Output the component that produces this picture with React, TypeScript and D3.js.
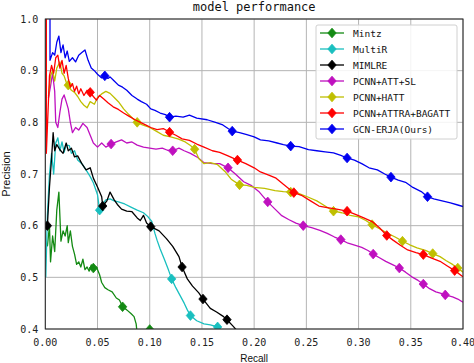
import React from "react";
import * as d3 from "d3";

const W = 474;
const H = 363;

// series names, in plotting order (last one ends up on top)
const NAMES = ["Mintz", "MultiR", "MIMLRE", "PCNN+ATT+SL", "PCNN+HATT", "PCNN+ATTRA+BAGATT", "GCN-ERJA(Ours)"];
const COLORS = ["#138a13", "#19bfbf", "#000000", "#bf10bf", "#bfbf00", "#ff0000", "#0000f0"];

// [recall, precision]
const mintz = [
  [0.002, 0.56], [0.004, 0.6], [0.005, 0.53], [0.007, 0.58], [0.009, 0.55], [0.011, 0.63], [0.013, 0.665],
  [0.015, 0.57], [0.017, 0.59], [0.019, 0.58], [0.021, 0.6], [0.022, 0.567], [0.024, 0.59], [0.026, 0.56],
  [0.028, 0.545], [0.03, 0.525], [0.032, 0.53], [0.034, 0.52], [0.036, 0.535], [0.038, 0.515], [0.04, 0.52],
  [0.042, 0.512], [0.044, 0.524], [0.046, 0.518], [0.049, 0.52], [0.052, 0.505], [0.054, 0.49], [0.057, 0.48],
  [0.06, 0.476], [0.064, 0.472], [0.068, 0.46], [0.071, 0.456], [0.074, 0.443], [0.078, 0.437], [0.082, 0.43],
  [0.085, 0.424], [0.087, 0.41], [0.088, 0.39], [0.094, 0.38], [0.1, 0.399], [0.104, 0.38],
];
const multiR = [
  [0.0005, 0.5], [0.002, 0.62], [0.004, 0.7], [0.006, 0.74], [0.008, 0.7], [0.01, 0.76], [0.012, 0.77],
  [0.014, 0.745], [0.016, 0.762], [0.018, 0.742], [0.02, 0.756], [0.023, 0.755], [0.025, 0.74], [0.028, 0.745],
  [0.031, 0.727], [0.035, 0.72], [0.039, 0.708], [0.043, 0.695], [0.046, 0.683], [0.05, 0.66], [0.052, 0.63],
  [0.055, 0.642], [0.058, 0.65], [0.062, 0.652], [0.066, 0.648], [0.07, 0.646], [0.076, 0.642], [0.082, 0.636],
  [0.088, 0.63], [0.094, 0.625], [0.098, 0.618], [0.102, 0.608], [0.105, 0.585], [0.107, 0.572], [0.11, 0.555],
  [0.114, 0.535], [0.118, 0.514], [0.121, 0.497], [0.125, 0.48], [0.129, 0.465], [0.133, 0.45], [0.136, 0.437],
  [0.139, 0.426], [0.145, 0.416], [0.152, 0.41], [0.158, 0.408], [0.165, 0.404], [0.168, 0.396],
];
const mimlre = [
  [0.002, 0.6], [0.004, 0.675], [0.006, 0.73], [0.0075, 0.78], [0.009, 0.745], [0.011, 0.757], [0.014, 0.747],
  [0.017, 0.74], [0.02, 0.76], [0.022, 0.745], [0.025, 0.75], [0.028, 0.733], [0.031, 0.735], [0.035, 0.72],
  [0.039, 0.708], [0.043, 0.712], [0.046, 0.692], [0.05, 0.675], [0.054, 0.656], [0.055, 0.638], [0.059, 0.648],
  [0.062, 0.665], [0.066, 0.65], [0.069, 0.641], [0.073, 0.632], [0.078, 0.628], [0.083, 0.627], [0.088, 0.615],
  [0.091, 0.61], [0.094, 0.62], [0.097, 0.605], [0.101, 0.598], [0.109, 0.59], [0.116, 0.575], [0.122, 0.56],
  [0.128, 0.54], [0.131, 0.52], [0.136, 0.497], [0.141, 0.483], [0.147, 0.47], [0.151, 0.458], [0.158, 0.44],
  [0.164, 0.433], [0.17, 0.425], [0.174, 0.418], [0.18, 0.405], [0.184, 0.396],
];
const pcnnAttSl = [
  [0.003, 0.847], [0.005, 0.87], [0.007, 0.895], [0.009, 0.86], [0.01, 0.8], [0.012, 0.79], [0.014, 0.82],
  [0.016, 0.845], [0.018, 0.853], [0.02, 0.84], [0.022, 0.826], [0.024, 0.8], [0.026, 0.78], [0.029, 0.79],
  [0.032, 0.785], [0.036, 0.798], [0.04, 0.79], [0.043, 0.775], [0.046, 0.76], [0.05, 0.752], [0.054, 0.76],
  [0.058, 0.752], [0.063, 0.758], [0.068, 0.762], [0.073, 0.766], [0.078, 0.76], [0.083, 0.762], [0.088, 0.756],
  [0.094, 0.752], [0.1, 0.75], [0.106, 0.748], [0.112, 0.75], [0.117, 0.746], [0.122, 0.745], [0.128, 0.75],
  [0.133, 0.745], [0.139, 0.74], [0.146, 0.732], [0.152, 0.722], [0.16, 0.72], [0.167, 0.72], [0.175, 0.712],
  [0.182, 0.7], [0.19, 0.685], [0.197, 0.678], [0.205, 0.665], [0.213, 0.646], [0.22, 0.632], [0.226, 0.62],
  [0.233, 0.612], [0.24, 0.605], [0.247, 0.6], [0.255, 0.596], [0.263, 0.591], [0.27, 0.585], [0.277, 0.578],
  [0.283, 0.573], [0.29, 0.566], [0.297, 0.562], [0.303, 0.558], [0.309, 0.552], [0.314, 0.545], [0.32, 0.538],
  [0.326, 0.531], [0.333, 0.524], [0.339, 0.518], [0.345, 0.51], [0.351, 0.501], [0.357, 0.494], [0.362, 0.487],
  [0.368, 0.478], [0.374, 0.472], [0.379, 0.469], [0.383, 0.466], [0.39, 0.462], [0.395, 0.458], [0.4, 0.452],
];
const pcnnHatt = [
  [0.003, 0.85], [0.005, 0.89], [0.007, 0.9], [0.009, 0.88], [0.011, 0.905], [0.014, 0.917], [0.016, 0.895],
  [0.018, 0.89], [0.02, 0.878], [0.022, 0.872], [0.025, 0.862], [0.028, 0.858], [0.031, 0.85], [0.034, 0.84],
  [0.037, 0.833], [0.04, 0.828], [0.043, 0.84], [0.047, 0.835], [0.05, 0.848], [0.054, 0.855], [0.058, 0.86],
  [0.062, 0.856], [0.066, 0.848], [0.07, 0.84], [0.075, 0.826], [0.08, 0.815], [0.085, 0.805], [0.088, 0.8],
  [0.093, 0.795], [0.1, 0.79], [0.107, 0.782], [0.113, 0.775], [0.12, 0.772], [0.127, 0.768], [0.134, 0.762],
  [0.139, 0.755], [0.143, 0.748], [0.147, 0.73], [0.152, 0.72], [0.158, 0.722], [0.165, 0.718], [0.172, 0.705],
  [0.178, 0.69], [0.186, 0.679], [0.193, 0.678], [0.2, 0.674], [0.21, 0.672], [0.22, 0.668], [0.228, 0.666],
  [0.235, 0.665], [0.243, 0.662], [0.252, 0.655], [0.26, 0.648], [0.268, 0.638], [0.276, 0.628], [0.284, 0.625],
  [0.292, 0.62], [0.3, 0.617], [0.307, 0.61], [0.313, 0.602], [0.32, 0.594], [0.327, 0.586], [0.335, 0.578],
  [0.342, 0.57], [0.349, 0.563], [0.356, 0.557], [0.364, 0.552], [0.371, 0.546], [0.378, 0.54], [0.384, 0.532],
  [0.39, 0.525], [0.395, 0.518], [0.4, 0.51],
];
const pcnnAttraBagatt = [
  [0.001, 1.0], [0.001, 0.74], [0.004, 0.89], [0.006, 0.91], [0.008, 0.895], [0.01, 0.925], [0.012, 0.93],
  [0.014, 0.905], [0.016, 0.92], [0.018, 0.895], [0.02, 0.91], [0.022, 0.885], [0.024, 0.868], [0.026, 0.875],
  [0.028, 0.86], [0.03, 0.87], [0.032, 0.855], [0.034, 0.865], [0.037, 0.852], [0.04, 0.862], [0.043, 0.858],
  [0.046, 0.85], [0.049, 0.843], [0.052, 0.852], [0.056, 0.845], [0.06, 0.838], [0.065, 0.83], [0.07, 0.825],
  [0.075, 0.818], [0.08, 0.812], [0.086, 0.805], [0.091, 0.8], [0.096, 0.795], [0.101, 0.79], [0.107, 0.786],
  [0.113, 0.788], [0.119, 0.781], [0.125, 0.775], [0.131, 0.768], [0.138, 0.765], [0.145, 0.758], [0.152, 0.752],
  [0.16, 0.745], [0.167, 0.742], [0.175, 0.735], [0.184, 0.727], [0.192, 0.72], [0.2, 0.712], [0.206, 0.704],
  [0.214, 0.698], [0.221, 0.692], [0.228, 0.68], [0.233, 0.672], [0.238, 0.664], [0.246, 0.658], [0.254, 0.648],
  [0.262, 0.638], [0.27, 0.635], [0.279, 0.632], [0.289, 0.628], [0.297, 0.622], [0.305, 0.615], [0.313, 0.608],
  [0.32, 0.596], [0.327, 0.581], [0.333, 0.572], [0.34, 0.562], [0.347, 0.553], [0.355, 0.548], [0.362, 0.544],
  [0.37, 0.537], [0.378, 0.531], [0.385, 0.522], [0.392, 0.513], [0.4, 0.501],
];
const gcnErja = [
  [0.0045, 1.0], [0.0045, 0.92], [0.007, 0.935], [0.009, 0.93], [0.011, 0.955], [0.013, 0.967], [0.015, 0.935],
  [0.017, 0.95], [0.019, 0.925], [0.021, 0.938], [0.023, 0.918], [0.026, 0.925], [0.029, 0.917], [0.032, 0.93],
  [0.035, 0.935], [0.038, 0.94], [0.041, 0.92], [0.044, 0.905], [0.047, 0.9], [0.05, 0.893], [0.054, 0.886],
  [0.057, 0.89], [0.06, 0.885], [0.062, 0.888], [0.066, 0.88], [0.07, 0.872], [0.074, 0.868], [0.078, 0.862],
  [0.083, 0.852], [0.088, 0.845], [0.092, 0.84], [0.097, 0.835], [0.101, 0.826], [0.105, 0.823], [0.11, 0.818],
  [0.115, 0.815], [0.119, 0.81], [0.125, 0.812], [0.132, 0.81], [0.138, 0.814], [0.145, 0.808], [0.155, 0.805],
  [0.163, 0.8], [0.17, 0.795], [0.175, 0.788], [0.179, 0.783], [0.186, 0.78], [0.193, 0.776], [0.2, 0.772],
  [0.206, 0.766], [0.214, 0.764], [0.222, 0.76], [0.228, 0.757], [0.235, 0.754], [0.243, 0.753], [0.252, 0.747],
  [0.26, 0.745], [0.268, 0.743], [0.276, 0.741], [0.283, 0.736], [0.289, 0.731], [0.296, 0.727], [0.303, 0.72],
  [0.31, 0.712], [0.318, 0.708], [0.325, 0.7], [0.331, 0.694], [0.338, 0.688], [0.345, 0.684], [0.352, 0.674],
  [0.36, 0.666], [0.366, 0.656], [0.372, 0.652], [0.38, 0.648], [0.388, 0.644], [0.395, 0.64], [0.4, 0.637],
];

// diamond markers sitting on each curve
const mintzMarks = [[0.046, 0.518], [0.074, 0.443], [0.1, 0.399]];
const multiRMarks = [[0.052, 0.63], [0.121, 0.497], [0.139, 0.426], [0.165, 0.404]];
const mimlreMarks = [[0.002, 0.6], [0.055, 0.638], [0.101, 0.598], [0.131, 0.52], [0.151, 0.458], [0.174, 0.418]];
const pcnnAttSlMarks = [[0.063, 0.758], [0.122, 0.745], [0.175, 0.712], [0.213, 0.646], [0.247, 0.6], [0.283, 0.573], [0.314, 0.545], [0.339, 0.518], [0.362, 0.487], [0.383, 0.466]];
const pcnnHattMarks = [[0.022, 0.872], [0.088, 0.8], [0.143, 0.748], [0.186, 0.679], [0.235, 0.665], [0.276, 0.628], [0.313, 0.602], [0.342, 0.57], [0.371, 0.546], [0.395, 0.518]];
const pcnnAttraBagattMarks = [[0.043, 0.858], [0.119, 0.781], [0.184, 0.727], [0.238, 0.664], [0.289, 0.628], [0.327, 0.581], [0.362, 0.544], [0.392, 0.513]];
const gcnErjaMarks = [[0.057, 0.89], [0.119, 0.81], [0.179, 0.783], [0.235, 0.754], [0.289, 0.731], [0.331, 0.694], [0.366, 0.656]];

const SERIES = [mintz, multiR, mimlre, pcnnAttSl, pcnnHatt, pcnnAttraBagatt, gcnErja];
const MARKS = [mintzMarks, multiRMarks, mimlreMarks, pcnnAttSlMarks, pcnnHattMarks, pcnnAttraBagattMarks, gcnErjaMarks];

const X_DOMAIN = [0, 0.4];
const Y_DOMAIN = [0.4, 1.0];

const left = 45.3, right = 463, top = 19, bottom = 329;
const MONO = "'DejaVu Sans Mono', monospace";

const diamond = (cx: number, cy: number, s = 4.2) =>
  `M${cx},${cy - s * 1.15}L${cx + s},${cy}L${cx},${cy + s * 1.15}L${cx - s},${cy}Z`;

export default function App() {
  const x = d3.scaleLinear().domain(X_DOMAIN).range([left, right]);
  const y = d3.scaleLinear().domain(Y_DOMAIN).range([bottom, top]);
  const line = d3.line<number[]>().x((d) => x(d[0])).y((d) => y(d[1]));

  const xTicks = x.ticks(8);
  const yTicks = y.ticks(6);
  const fx = d3.format(".2f");
  const fy = d3.format(".1f");

  const legX = 316, legY = 25;

  return (
    <svg width={W} height={H} style={{ position: "absolute", left: 0, top: 0, background: "#fff" }}>
      <defs>
        <clipPath id="plot">
          <rect x={left} y={top} width={right - left} height={bottom - top} />
        </clipPath>
      </defs>
      <rect x={0} y={0} width={W} height={H} fill="#fff" />

      {/* grid */}
      <g stroke="#b4b4b4" strokeWidth={1}>
        {xTicks.map((t) => (
          <line key={"gx" + t} x1={x(t)} x2={x(t)} y1={top} y2={bottom} />
        ))}
        {yTicks.map((t) => (
          <line key={"gy" + t} x1={left} x2={right} y1={y(t)} y2={y(t)} />
        ))}
      </g>

      {/* curves */}
      <g clipPath="url(#plot)">
        {SERIES.map((s, i) => (
          <g key={NAMES[i]}>
            <path d={line(s) || ""} fill="none" stroke={COLORS[i]} strokeWidth={1.3} strokeLinejoin="round" />
            {MARKS[i].map((m, j) => (
              <path key={j} d={diamond(x(m[0]), y(m[1]))} fill={COLORS[i]} stroke={COLORS[i]} strokeWidth={0.8} />
            ))}
          </g>
        ))}
      </g>

      {/* frame */}
      <rect x={left} y={top} width={right - left} height={bottom - top} fill="none" stroke="#222" strokeWidth={1} />

      {/* tick labels */}
      <g fontFamily={MONO} fontSize={10} fill="#222">
        {xTicks.map((t) => (
          <text key={"tx" + t} x={x(t)} y={bottom + 17} textAnchor="middle">
            {fx(t)}
          </text>
        ))}
        {yTicks.map((t) => (
          <text key={"ty" + t} x={left - 7} y={y(t) + 3.5} textAnchor="end">
            {fy(t)}
          </text>
        ))}
      </g>

      {/* titles */}
      <text x={(left + right) / 2} y={11} textAnchor="middle" fontFamily={MONO} fontSize={12} fill="#111">
        model performance
      </text>
      <text x={(left + right) / 2} y={362} textAnchor="middle" fontFamily="'Liberation Sans', sans-serif" fontSize={10} fill="#111">
        Recall
      </text>
      <text
        transform={`translate(10,${(top + bottom) / 2}) rotate(-90)`}
        textAnchor="middle"
        fontFamily="'Liberation Sans', sans-serif"
        fontSize={11}
        fill="#111"
      >
        Precision
      </text>

      {/* legend */}
      <g>
        <rect x={legX} y={legY} width={141} height={114} rx={2} fill="#fff" fillOpacity={0.85} stroke="#d0d0d0" />
        {NAMES.map((n, i) => {
          const cy = legY + 8 + i * 16;
          return (
            <g key={"lg" + n}>
              <line x1={legX + 4} x2={legX + 28} y1={cy} y2={cy} stroke={COLORS[i]} strokeWidth={1.3} />
              <path d={diamond(legX + 16, cy)} fill={COLORS[i]} stroke={COLORS[i]} strokeWidth={0.8} />
              <text x={legX + 37} y={cy + 3.5} fontFamily={MONO} fontSize={9.5} fill="#111">
                {n}
              </text>
            </g>
          );
        })}
      </g>
    </svg>
  );
}
